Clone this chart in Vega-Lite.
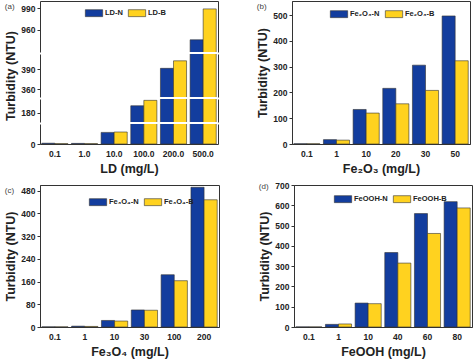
{
  "$schema": "https://vega.github.io/schema/vega-lite/v6.json",
  "padding": {"left": 4, "top": 0, "right": 2, "bottom": 0},
  "background": "white",
  "datasets": {
    "a": [
      {"conc": "0.1", "series": "LD-N", "value": 2},
      {"conc": "0.1", "series": "LD-B", "value": 1},
      {"conc": "1.0", "series": "LD-N", "value": 1.5},
      {"conc": "1.0", "series": "LD-B", "value": 1},
      {"conc": "10.0", "series": "LD-N", "value": 29},
      {"conc": "10.0", "series": "LD-B", "value": 30},
      {"conc": "100.0", "series": "LD-N", "value": 190},
      {"conc": "100.0", "series": "LD-B", "value": 198},
      {"conc": "200.0", "series": "LD-N", "value": 391},
      {"conc": "200.0", "series": "LD-B", "value": 402},
      {"conc": "500.0", "series": "LD-N", "value": 946},
      {"conc": "500.0", "series": "LD-B", "value": 989}
    ],
    "b": [
      {"conc": "0.1", "series": "Fe₂O₃-N", "value": 1},
      {"conc": "0.1", "series": "Fe₂O₃-B", "value": 1},
      {"conc": "1", "series": "Fe₂O₃-N", "value": 17},
      {"conc": "1", "series": "Fe₂O₃-B", "value": 15},
      {"conc": "10", "series": "Fe₂O₃-N", "value": 134},
      {"conc": "10", "series": "Fe₂O₃-B", "value": 120},
      {"conc": "20", "series": "Fe₂O₃-N", "value": 216},
      {"conc": "20", "series": "Fe₂O₃-B", "value": 156},
      {"conc": "30", "series": "Fe₂O₃-N", "value": 306},
      {"conc": "30", "series": "Fe₂O₃-B", "value": 208},
      {"conc": "50", "series": "Fe₂O₃-N", "value": 497},
      {"conc": "50", "series": "Fe₂O₃-B", "value": 323}
    ],
    "c": [
      {"conc": "0.1", "series": "Fe₃O₄-N", "value": 0.5},
      {"conc": "0.1", "series": "Fe₃O₄-B", "value": 0.5},
      {"conc": "1", "series": "Fe₃O₄-N", "value": 3},
      {"conc": "1", "series": "Fe₃O₄-B", "value": 2},
      {"conc": "10", "series": "Fe₃O₄-N", "value": 23},
      {"conc": "10", "series": "Fe₃O₄-B", "value": 21},
      {"conc": "30", "series": "Fe₃O₄-N", "value": 60},
      {"conc": "30", "series": "Fe₃O₄-B", "value": 59},
      {"conc": "100", "series": "Fe₃O₄-N", "value": 184},
      {"conc": "100", "series": "Fe₃O₄-B", "value": 163},
      {"conc": "200", "series": "Fe₃O₄-N", "value": 492},
      {"conc": "200", "series": "Fe₃O₄-B", "value": 448}
    ],
    "d": [
      {"conc": "0.1", "series": "FeOOH-N", "value": 0.5},
      {"conc": "0.1", "series": "FeOOH-B", "value": 0.5},
      {"conc": "1", "series": "FeOOH-N", "value": 13},
      {"conc": "1", "series": "FeOOH-B", "value": 15},
      {"conc": "10", "series": "FeOOH-N", "value": 118},
      {"conc": "10", "series": "FeOOH-B", "value": 115},
      {"conc": "40", "series": "FeOOH-N", "value": 367},
      {"conc": "40", "series": "FeOOH-B", "value": 315},
      {"conc": "60", "series": "FeOOH-N", "value": 559},
      {"conc": "60", "series": "FeOOH-B", "value": 461},
      {"conc": "80", "series": "FeOOH-N", "value": 618},
      {"conc": "80", "series": "FeOOH-B", "value": 587}
    ]
  },
  "config": {
    "font": "Liberation Sans",
    "view": {"stroke": "#333", "strokeWidth": 1},
    "axis": {
      "labelFont": "Liberation Sans", "labelFontWeight": "bold", "labelFontSize": 8.5, "labelColor": "#222",
      "titleFont": "Liberation Sans", "titleFontSize": 12.5, "titleFontWeight": "bold", "titleColor": "#222",
      "domainColor": "#333", "tickColor": "#333", "tickSize": 3, "grid": false, "labelPadding": 2, "titlePadding": 3
    },
    "axisX": {"labelAngle": 0, "ticks": false, "labelPadding": 5, "titlePadding": 5},
    "legend": {
      "labelFont": "Liberation Sans", "labelFontWeight": "bold", "labelFontSize": 7.5, "labelColor": "#222",
      "symbolType": "M-1,-0.4H1V0.4H-1Z", "symbolSize": 300, "symbolStrokeColor": "#333", "symbolStrokeWidth": 0.6,
      "symbolOpacity": 1, "labelOffset": 2, "columnPadding": 4, "direction": "horizontal", "orient": "none", "title": null
    },
    "title": {"fontSize": 8, "fontWeight": "normal", "color": "#444", "anchor": "start", "frame": "bounds", "offset": -10}
  },
  "resolve": {"scale": {"color": "independent", "xOffset": "independent", "x": "independent"}, "legend": {"color": "independent"}},
  "spacing": 4,
  "vconcat": [
    {
      "resolve": {"scale": {"color": "independent", "xOffset": "independent", "x": "independent"}, "legend": {"color": "independent"}},
      "spacing": 38,
      "hconcat": [
        {
          "title": {"text": "(a)"},
          "resolve": {"scale": {"color": "independent", "xOffset": "independent", "x": "independent"}, "legend": {"color": "independent"}},
          "spacing": 2,
          "bounds": "flush",
          "vconcat": [
            {
              "height": 51, "width": 178, "view": {"stroke": null}, "data": {"name": "a"},
              "layer": [
                {"mark": {"type": "bar", "clip": true, "stroke": "#333", "strokeWidth": 0.6},
                 "encoding": {
                   "x": {"field": "conc", "type": "nominal", "sort": null, "scale": {"type": "band", "paddingInner": 0.12, "paddingOuter": 0.06}, "axis": null},
                   "xOffset": {"field": "series", "type": "nominal", "scale": {"type": "band", "domain": ["LD-N", "LD-B"]}},
                   "y": {"field": "value", "type": "quantitative", "scale": {"domain": [929, 1000], "nice": false, "zero": false}, "axis": {"values": [960, 990], "title": null}},
                   "y2": {"datum": 0},
                   "color": {"field": "series", "type": "nominal", "scale": {"domain": ["LD-N", "LD-B"], "range": ["#133d9e", "#ffd21f"]}, "legend": {"legendX": 45, "legendY": 3}}
                 }},
                {"mark": {"type": "bar", "opacity": 0, "clip": true},
                 "encoding": {
                   "x": {"field": "conc", "type": "nominal", "sort": null, "axis": {"orient": "top", "labels": false, "ticks": false, "title": null}},
                   "y": {"field": "value", "type": "quantitative", "axis": {"orient": "right", "labels": false, "ticks": false, "title": null}}
                 }}
              ],
              "resolve": {"axis": {"x": "independent", "y": "independent"}}
            },
            {
              "height": 43, "width": 178, "view": {"stroke": null}, "data": {"name": "a"},
              "layer": [
                {"mark": {"type": "bar", "clip": true, "stroke": "#333", "strokeWidth": 0.6},
                 "encoding": {
                   "x": {"field": "conc", "type": "nominal", "sort": null, "scale": {"type": "band", "paddingInner": 0.12, "paddingOuter": 0.06}, "axis": null},
                   "xOffset": {"field": "series", "type": "nominal", "scale": {"type": "band", "domain": ["LD-N", "LD-B"]}},
                   "y": {"field": "value", "type": "quantitative", "scale": {"domain": [349, 412], "nice": false, "zero": false}, "axis": {"values": [360, 390], "title": "Turbidity (NTU)"}},
                   "y2": {"datum": 0},
                   "color": {"field": "series", "type": "nominal", "scale": {"domain": ["LD-N", "LD-B"], "range": ["#133d9e", "#ffd21f"]}, "legend": null}
                 }},
                {"mark": {"type": "bar", "opacity": 0, "clip": true},
                 "encoding": {
                   "x": {"field": "conc", "type": "nominal", "sort": null, "axis": null},
                   "y": {"field": "value", "type": "quantitative", "axis": {"orient": "right", "labels": false, "ticks": false, "title": null}}
                 }}
              ],
              "resolve": {"axis": {"x": "independent", "y": "independent"}}
            },
            {
              "height": 23, "width": 178, "view": {"stroke": null}, "data": {"name": "a"},
              "layer": [
                {"mark": {"type": "bar", "clip": true, "stroke": "#333", "strokeWidth": 0.6},
                 "encoding": {
                   "x": {"field": "conc", "type": "nominal", "sort": null, "scale": {"type": "band", "paddingInner": 0.12, "paddingOuter": 0.06}, "axis": null},
                   "xOffset": {"field": "series", "type": "nominal", "scale": {"type": "band", "domain": ["LD-N", "LD-B"]}},
                   "y": {"field": "value", "type": "quantitative", "scale": {"domain": [166, 200], "nice": false, "zero": false}, "axis": {"values": [180], "title": null}},
                   "y2": {"datum": 0},
                   "color": {"field": "series", "type": "nominal", "scale": {"domain": ["LD-N", "LD-B"], "range": ["#133d9e", "#ffd21f"]}, "legend": null}
                 }},
                {"mark": {"type": "bar", "opacity": 0, "clip": true},
                 "encoding": {
                   "x": {"field": "conc", "type": "nominal", "sort": null, "axis": null},
                   "y": {"field": "value", "type": "quantitative", "axis": {"orient": "right", "labels": false, "ticks": false, "title": null}}
                 }}
              ],
              "resolve": {"axis": {"x": "independent", "y": "independent"}}
            },
            {
              "height": 20, "width": 178, "view": {"stroke": null}, "data": {"name": "a"},
              "layer": [
                {"mark": {"type": "bar", "clip": true, "stroke": "#333", "strokeWidth": 0.6},
                 "encoding": {
                   "x": {"field": "conc", "type": "nominal", "sort": null, "scale": {"type": "band", "paddingInner": 0.12, "paddingOuter": 0.06}, "axis": {"title": "LD (mg/L)"}},
                   "xOffset": {"field": "series", "type": "nominal", "scale": {"type": "band", "domain": ["LD-N", "LD-B"]}},
                   "y": {"field": "value", "type": "quantitative", "scale": {"domain": [0, 50], "nice": false, "zero": false}, "axis": {"values": [0], "title": null}},
                   "y2": {"datum": 0},
                   "color": {"field": "series", "type": "nominal", "scale": {"domain": ["LD-N", "LD-B"], "range": ["#133d9e", "#ffd21f"]}, "legend": null}
                 }},
                {"mark": {"type": "bar", "opacity": 0, "clip": true},
                 "encoding": {
                   "x": {"field": "conc", "type": "nominal", "sort": null, "axis": null},
                   "y": {"field": "value", "type": "quantitative", "axis": {"orient": "right", "labels": false, "ticks": false, "title": null}}
                 }}
              ],
              "resolve": {"axis": {"x": "independent", "y": "independent"}}
            }
          ]
        },
        {
          "title": {"text": "(b)"},
          "height": 143, "width": 178, "data": {"name": "b"},
          "mark": {"type": "bar", "stroke": "#333", "strokeWidth": 0.6},
          "encoding": {
            "x": {"field": "conc", "type": "nominal", "sort": null, "scale": {"type": "band", "paddingInner": 0.12, "paddingOuter": 0.06}, "axis": {"title": "Fe₂O₃ (mg/L)"}},
            "xOffset": {"field": "series", "type": "nominal", "scale": {"type": "band", "domain": ["Fe₂O₃-N", "Fe₂O₃-B"]}},
            "y": {"field": "value", "type": "quantitative", "scale": {"domain": [0, 555], "nice": false}, "axis": {"values": [0, 100, 200, 300, 400, 500], "title": "Turbidity (NTU)"}},
            "color": {"field": "series", "type": "nominal", "scale": {"domain": ["Fe₂O₃-N", "Fe₂O₃-B"], "range": ["#133d9e", "#ffd21f"]}, "legend": {"legendX": 38, "legendY": 4}}
          }
        }
      ]
    },
    {
      "resolve": {"scale": {"color": "independent", "xOffset": "independent", "x": "independent"}, "legend": {"color": "independent"}},
      "spacing": 38,
      "hconcat": [
        {
          "title": {"text": "(c)"},
          "height": 142, "width": 179, "data": {"name": "c"},
          "mark": {"type": "bar", "stroke": "#333", "strokeWidth": 0.6},
          "encoding": {
            "x": {"field": "conc", "type": "nominal", "sort": null, "scale": {"type": "band", "paddingInner": 0.12, "paddingOuter": 0.06}, "axis": {"title": "Fe₃O₄ (mg/L)"}},
            "xOffset": {"field": "series", "type": "nominal", "scale": {"type": "band", "domain": ["Fe₃O₄-N", "Fe₃O₄-B"]}},
            "y": {"field": "value", "type": "quantitative", "scale": {"domain": [0, 500], "nice": false}, "axis": {"values": [0, 80, 160, 240, 320, 400, 480], "title": "Turbidity (NTU)"}},
            "color": {"field": "series", "type": "nominal", "scale": {"domain": ["Fe₃O₄-N", "Fe₃O₄-B"], "range": ["#133d9e", "#ffd21f"]}, "legend": {"legendX": 49, "legendY": 8}}
          }
        },
        {
          "title": {"text": "(d)"},
          "height": 142, "width": 178, "data": {"name": "d"},
          "mark": {"type": "bar", "stroke": "#333", "strokeWidth": 0.6},
          "encoding": {
            "x": {"field": "conc", "type": "nominal", "sort": null, "scale": {"type": "band", "paddingInner": 0.12, "paddingOuter": 0.06}, "axis": {"title": "FeOOH (mg/L)"}},
            "xOffset": {"field": "series", "type": "nominal", "scale": {"type": "band", "domain": ["FeOOH-N", "FeOOH-B"]}},
            "y": {"field": "value", "type": "quantitative", "scale": {"domain": [0, 700], "nice": false}, "axis": {"values": [0, 100, 200, 300, 400, 500, 600, 700], "title": "Turbidity (NTU)"}},
            "color": {"field": "series", "type": "nominal", "scale": {"domain": ["FeOOH-N", "FeOOH-B"], "range": ["#133d9e", "#ffd21f"]}, "legend": {"legendX": 40, "legendY": 5}}
          }
        }
      ]
    }
  ]
}
